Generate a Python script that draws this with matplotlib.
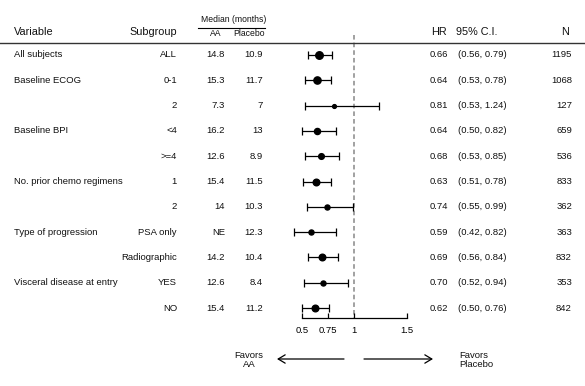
import matplotlib
matplotlib.use("Agg")
import matplotlib.pyplot as plt
from matplotlib import transforms
from matplotlib.lines import Line2D

plt.rcParams['font.family'] = ['Liberation Sans', 'DejaVu Sans']

variables = ["All subjects", "Baseline ECOG", "", "Baseline BPI", "",
             "No. prior chemo regimens", "", "Type of progression", "",
             "Visceral disease at entry", ""]
subgroups = ["ALL", "0-1", "2", "<4", ">=4", "1", "2", "PSA only",
             "Radiographic", "YES", "NO"]
median_aa = ["14.8", "15.3", "7.3", "16.2", "12.6", "15.4", "14", "NE",
             "14.2", "12.6", "15.4"]
median_placebo = ["10.9", "11.7", "7", "13", "8.9", "11.5", "10.3", "12.3",
                  "10.4", "8.4", "11.2"]
hr = [0.66, 0.64, 0.81, 0.64, 0.68, 0.63, 0.74, 0.59, 0.69, 0.70, 0.62]
ci_lo = [0.56, 0.53, 0.53, 0.50, 0.53, 0.51, 0.55, 0.42, 0.56, 0.52, 0.50]
ci_hi = [0.79, 0.78, 1.24, 0.82, 0.85, 0.78, 0.99, 0.82, 0.84, 0.94, 0.76]
n_pts = [1195, 1068, 127, 659, 536, 833, 362, 363, 832, 353, 842]
xticks = [0.5, 0.75, 1, 1.5]
xticklabels = ["0.5", "0.75", "1", "1.5"]

W, H = 585, 386


def fx(x):
    return x / W


def fy(y):
    return 1 - y / H


fig = plt.figure(figsize=(W / 100, H / 100), dpi=100)
fig.patch.set_facecolor('white')

# forest axes: pixel 270..430 horizontally, 30..318 vertically
ax = fig.add_axes([fx(270), fy(318), (430 - 270) / W, (318 - 30) / H])
ax.set_xlim(0.1944, 1.7225)
ax.set_ylim(10.395, -0.988)
for s in ['left', 'top', 'right']:
    ax.spines[s].set_visible(False)
ax.spines['bottom'].set_bounds(0.5, 1.5)
ax.spines['bottom'].set_linewidth(0.9)
ax.set_yticks([])
ax.set_xticks(xticks)
ax.set_xticklabels(xticklabels)
ax.tick_params(axis='x', direction='in', length=3.5, width=0.9, pad=6,
               labelsize=6.8, colors='black')
ax.patch.set_alpha(0)

ax.vlines(1, -0.8, 10.395, colors='#888888', linestyles=(0, (3, 2)), lw=1.1,
          zorder=1)

rows = list(range(len(hr)))
for i in rows:
    d_px = 2 + 0.16 * n_pts[i] ** 0.5
    ax.errorbar(hr[i], i, xerr=[[hr[i] - ci_lo[i]], [ci_hi[i] - hr[i]]],
                fmt='o', color='black', ms=d_px * 0.72, elinewidth=0.9,
                capsize=3, capthick=0.9, zorder=3)

# text columns
tr = transforms.blended_transform_factory(fig.transFigure, ax.transData)
fs = 6.8
for i in rows:
    kw = dict(transform=tr, fontsize=fs, va='center', color='#111111')
    ax.text(fx(14), i, variables[i], ha='left', **kw)
    ax.text(fx(177), i, subgroups[i], ha='right', **kw)
    ax.text(fx(225), i, median_aa[i], ha='right', **kw)
    ax.text(fx(263), i, median_placebo[i], ha='right', **kw)
    ax.text(fx(448), i, f"{hr[i]:.2f}", ha='right', **kw)
    ax.text(fx(458), i, f"({ci_lo[i]:.2f}, {ci_hi[i]:.2f})", ha='left', **kw)
    ax.text(fx(572), i, str(n_pts[i]), ha='right', **kw)

# header
hk = dict(fontsize=7.8, va='center', color='#111111')
fig.text(fx(14), fy(32), "Variable", ha='left', **hk)
fig.text(fx(177), fy(32), "Subgroup", ha='right', **hk)
fig.text(fx(447), fy(32), "HR", ha='right', **hk)
fig.text(fx(477), fy(32), "95% C.I.", ha='center', **hk)
fig.text(fx(565), fy(32), "N", ha='center', **hk)
fig.text(fx(234), fy(20), "Median (months)", ha='center', va='center',
         fontsize=6.2, color='#111111')
fig.text(fx(216), fy(34), "AA", ha='center', va='center', fontsize=6.2,
         color='#111111')
fig.text(fx(249), fy(34), "Placebo", ha='center', va='center', fontsize=6.2,
         color='#111111')
fig.add_artist(Line2D([fx(198), fx(265)], [fy(28), fy(28)], color='black',
                      lw=0.8))
fig.add_artist(Line2D([0, 1], [fy(43), fy(43)], color='#333333', lw=1.0))

# favors arrows
ak = dict(arrowstyle='->,head_length=0.5,head_width=0.3', color='black',
          lw=0.9, mutation_scale=10, shrinkA=0, shrinkB=0)
fig.add_artist(matplotlib.patches.FancyArrowPatch(
    (fx(344), fy(359)), (fx(277), fy(359)), transform=fig.transFigure, **ak))
fig.add_artist(matplotlib.patches.FancyArrowPatch(
    (fx(364), fy(359)), (fx(433), fy(359)), transform=fig.transFigure, **ak))
fig.text(fx(249), fy(360), "Favors\nAA", ha='center', va='center',
         fontsize=6.8, linespacing=1.05, color='#111111')
fig.text(fx(459), fy(360), "Favors\nPlacebo", ha='left', va='center',
         fontsize=6.8, linespacing=1.05, color='#111111')

fig.savefig("out.png", dpi=100)
